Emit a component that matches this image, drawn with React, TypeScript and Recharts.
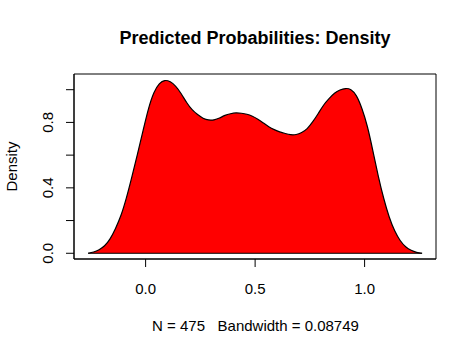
import {
  AreaChart,
  Area,
  XAxis,
  YAxis,
  ReferenceArea,
  ReferenceLine,
} from "recharts";

// kernel density estimate
const xs = [
  -0.2625, -0.2375, -0.2125, -0.1875, -0.1625, -0.1375, -0.1125, -0.0875,
  -0.0625, -0.0375, -0.0125, 0.0125, 0.0375, 0.0625, 0.0875, 0.1125, 0.1375,
  0.1625, 0.1875, 0.2125, 0.2375, 0.2625, 0.2875, 0.3125, 0.3375, 0.3625,
  0.3875, 0.4125, 0.4375, 0.4625, 0.4875, 0.5125, 0.5375, 0.5625, 0.5875,
  0.6125, 0.6375, 0.6625, 0.6875, 0.7125, 0.7375, 0.7625, 0.7875, 0.8125,
  0.8375, 0.8625, 0.8875, 0.9125, 0.9375, 0.9625, 0.9875, 1.0125, 1.0375,
  1.0625, 1.0875, 1.1125, 1.1375, 1.1625, 1.1875, 1.2125, 1.2375, 1.2625,
];
const density = [
  0.0, 0.008, 0.022, 0.046, 0.088, 0.152, 0.232, 0.34, 0.468, 0.605, 0.745,
  0.88, 0.98, 1.036, 1.056, 1.048, 1.02, 0.975, 0.922, 0.878, 0.848, 0.826,
  0.815, 0.816, 0.827, 0.843, 0.853, 0.858, 0.856, 0.85, 0.838, 0.82, 0.797,
  0.774, 0.756, 0.742, 0.732, 0.725, 0.726, 0.738, 0.762, 0.803, 0.853, 0.905,
  0.945, 0.978, 0.998, 1.007, 1.0, 0.962, 0.885, 0.775, 0.628, 0.472, 0.335,
  0.222, 0.137, 0.078, 0.04, 0.018, 0.006, 0.0,
];
const xTicks = [0, 0.5, 1];
const yTicks = [0, 0.2, 0.4, 0.6, 0.8, 1.0];
const yLabelled = [0, 0.4, 0.8];
const xDomain: [number, number] = [-0.327, 1.326];
const yDomain: [number, number] = [-0.035, 1.096];

const data = xs.map((x, i) => ({ x, d: density[i] }));

const FONT = "'Liberation Sans', Arial, Helvetica, sans-serif";

const YTick = (props: any) => {
  const { x, y, payload } = props;
  if (!yLabelled.some((v) => Math.abs(v - payload.value) < 1e-9)) return null;
  return (
    <text
      x={x}
      y={y}
      transform={`rotate(-90 ${x} ${y})`}
      textAnchor="middle"
      fontSize={15}
      fontFamily={FONT}
      fill="#000"
    >
      {payload.value.toFixed(1)}
    </text>
  );
};

export default function App() {
  return (
    <div
      style={{
        position: "absolute",
        left: 0,
        top: 0,
        width: 474,
        height: 353,
        background: "#fff",
      }}
    >
      <AreaChart
        width={474}
        height={353}
        data={data}
        margin={{ top: 74, right: 38, bottom: 54, left: 0 }}
      >
        <XAxis
          dataKey="x"
          type="number"
          domain={xDomain}
          allowDataOverflow
          ticks={xTicks}
          tickFormatter={(v: number) => v.toFixed(1)}
          height={40}
          tickSize={8}
          tickMargin={16}
          stroke="#000"
          tick={{ fontSize: 15, fill: "#000", fontFamily: FONT }}
        />
        <YAxis
          type="number"
          domain={yDomain}
          allowDataOverflow
          ticks={yTicks}
          width={74}
          tickSize={8}
          tickMargin={13}
          stroke="#000"
          tick={<YTick />}
        />
        <Area
          type="natural"
          dataKey="d"
          stroke="#000"
          strokeWidth={1.2}
          fill="#ff0000"
          fillOpacity={1}
          isAnimationActive={false}
        />
        <ReferenceLine
          segment={[
            { x: xs[0], y: 0 },
            { x: xs[xs.length - 1], y: 0 },
          ]}
          stroke="#000"
          strokeWidth={1}
        />
        <ReferenceArea
          x1={xDomain[0]}
          x2={xDomain[1]}
          y1={yDomain[0]}
          y2={yDomain[1]}
          fill="none"
          stroke="#000"
          strokeWidth={1}
        />
      </AreaChart>
      <svg
        width={474}
        height={353}
        style={{ position: "absolute", left: 0, top: 0, pointerEvents: "none" }}
      >
        <text
          x={255}
          y={43.5}
          textAnchor="middle"
          fontSize={18}
          fontWeight="bold"
          fontFamily={FONT}
          fill="#000"
        >
          Predicted Probabilities: Density
        </text>
        <text
          x={255.5}
          y={331}
          textAnchor="middle"
          fontSize={15}
          fontFamily={FONT}
          fill="#000"
          style={{ whiteSpace: "pre" }}
        >
          {"N = 475   Bandwidth = 0.08749"}
        </text>
        <text
          x={16.5}
          y={166.5}
          transform="rotate(-90 16.5 166.5)"
          textAnchor="middle"
          fontSize={15}
          fontFamily={FONT}
          fill="#000"
        >
          Density
        </text>
      </svg>
    </div>
  );
}
